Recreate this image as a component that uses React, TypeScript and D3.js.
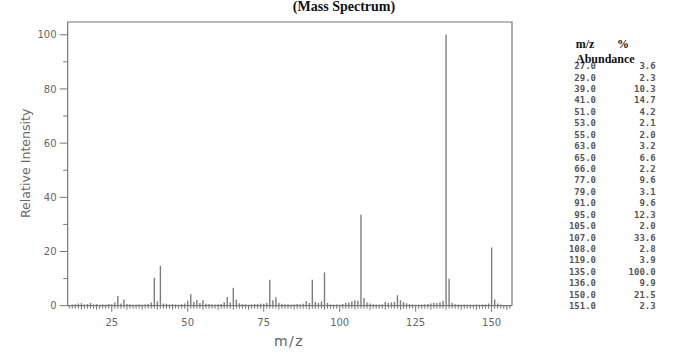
import React from "react";
import * as d3 from "d3";

const peakMz = [27, 29, 39, 41, 51, 53, 55, 63, 65, 66, 77, 79, 91, 95, 105, 107, 108, 119, 135, 136, 150, 151];
const peakAbund = [3.6, 2.3, 10.3, 14.7, 4.2, 2.1, 2.0, 3.2, 6.6, 2.2, 9.6, 3.1, 9.6, 12.3, 2.0, 33.6, 2.8, 3.9, 100.0, 9.9, 21.5, 2.3];

const minorMz = [12, 13, 14, 15, 16, 17, 18, 19, 20, 21, 22, 23, 24, 25, 26, 28, 30, 31, 32, 33, 34, 35, 36, 37, 38, 40, 42, 43, 44, 45, 46, 47, 48, 49, 50, 52, 54, 56, 57, 58, 59, 60, 61, 62, 64, 67, 68, 69, 70, 71, 72, 73, 74, 75, 76, 78, 80, 81, 82, 83, 84, 85, 86, 87, 88, 89, 90, 92, 93, 94, 96, 97, 98, 99, 100, 101, 102, 103, 104, 106, 109, 110, 111, 112, 113, 114, 115, 116, 117, 118, 120, 121, 122, 123, 124, 125, 126, 127, 128, 129, 130, 131, 132, 133, 134, 137, 138, 139, 140, 141, 142, 143, 144, 145, 146, 147, 148, 149, 152, 153];
const minorAbund = [0.4, 0.5, 0.8, 0.9, 0.5, 0.6, 1.0, 0.5, 0.6, 0.4, 0.5, 0.4, 0.6, 0.5, 1.2, 0.8, 0.6, 0.5, 0.4, 0.4, 0.5, 0.4, 0.5, 0.6, 1.2, 1.6, 0.8, 0.7, 0.5, 0.6, 0.5, 0.4, 0.6, 0.8, 1.8, 1.4, 1.0, 0.7, 0.6, 0.5, 0.4, 0.5, 0.6, 1.3, 1.2, 0.9, 0.6, 0.5, 0.4, 0.5, 0.6, 0.6, 0.8, 0.7, 1.0, 2.0, 1.0, 0.7, 0.5, 0.5, 0.4, 0.5, 0.6, 0.5, 0.7, 1.6, 1.0, 1.4, 1.0, 1.6, 1.0, 0.5, 0.4, 0.5, 0.4, 0.6, 1.0, 1.2, 1.6, 1.8, 1.2, 0.8, 0.5, 0.4, 0.4, 0.5, 1.5, 1.0, 1.2, 1.4, 2.0, 1.3, 0.9, 0.6, 0.5, 0.4, 0.4, 0.4, 0.5, 0.6, 0.8, 1.0, 1.0, 1.3, 1.8, 1.0, 0.5, 0.4, 0.4, 0.4, 0.4, 0.4, 0.4, 0.5, 0.4, 0.5, 0.5, 0.8, 0.8, 0.4];

const xTickLabels = [25, 50, 75, 100, 125, 150];
const yTickLabels = [0, 20, 40, 60, 80, 100];
const yMinorTicks = [10, 30, 50, 70, 90];

const tableMz = ["27.0", "29.0", "39.0", "41.0", "51.0", "53.0", "55.0", "63.0", "65.0", "66.0", "77.0", "79.0", "91.0", "95.0", "105.0", "107.0", "108.0", "119.0", "135.0", "136.0", "150.0", "151.0"];
const tableAbund = ["3.6", "2.3", "10.3", "14.7", "4.2", "2.1", "2.0", "3.2", "6.6", "2.2", "9.6", "3.1", "9.6", "12.3", "2.0", "33.6", "2.8", "3.9", "100.0", "9.9", "21.5", "2.3"];

export default function App() {
  const left = 67.7, right = 512, top = 22, bottom = 305.7;
  const x = d3.scaleLinear().domain([10.5, 156.7]).range([left, right]);
  const y = d3.scaleLinear().domain([0, 104.7]).range([bottom, top]);
  const axisColor = "#777";
  const textColor = "#666";
  const barColor = "#7d7d7d";
  const unitTicks = d3.range(11, 157);

  const bars = [
    ...minorMz.map((m, i) => ({ m, v: minorAbund[i] })),
    ...peakMz.map((m, i) => ({ m, v: peakAbund[i] })),
  ];

  return (
    <svg width={700} height={357} style={{ position: "absolute", left: 0, top: 0, background: "#fff" }}>
      <rect x={0} y={0} width={700} height={357} fill="#fff" />
      <text x={344} y={10.5} textAnchor="middle" fontFamily="Liberation Serif" fontWeight="bold" fontSize={14} fill="#111">(Mass Spectrum)</text>

      {/* frame */}
      <path d={`M${left},${bottom}V${top}H${right}V${bottom}`} fill="none" stroke={axisColor} strokeWidth={1.2} />
      <line x1={left} x2={right} y1={bottom} y2={bottom} stroke={axisColor} strokeWidth={1.2} />

      {/* bars */}
      {bars.map((b, i) => (
        <line key={i} x1={x(b.m)} x2={x(b.m)} y1={y(0)} y2={y(b.v)} stroke={barColor} strokeWidth={1.4} />
      ))}

      {/* x ticks */}
      {unitTicks.map((t) => {
        const len = t % 25 === 0 ? 6 : t % 5 === 0 ? 4 : 3;
        return <line key={t} x1={x(t)} x2={x(t)} y1={bottom} y2={bottom + len} stroke={axisColor} strokeWidth={1} />;
      })}
      {xTickLabels.map((t) => (
        <text key={t} x={x(t)} y={326} textAnchor="middle" fontFamily="DejaVu Sans" fontSize={10} fill={textColor}>{t}</text>
      ))}
      <text x={289} y={346} textAnchor="middle" fontFamily="DejaVu Sans" fontSize={14} letterSpacing={1.5} fill={textColor}>m/z</text>

      {/* y ticks */}
      {yTickLabels.map((t) => (
        <g key={t}>
          <line x1={left - 8} x2={left} y1={y(t)} y2={y(t)} stroke={axisColor} strokeWidth={1} />
          <text x={56.5} y={y(t) + 3.6} textAnchor="end" fontFamily="DejaVu Sans" fontSize={10} fill={textColor}>{t}</text>
        </g>
      ))}
      {yMinorTicks.map((t) => (
        <line key={t} x1={left - 4.5} x2={left} y1={y(t)} y2={y(t)} stroke={axisColor} strokeWidth={1} />
      ))}
      <text transform="translate(30.4,163.3) rotate(-90)" textAnchor="middle" fontFamily="DejaVu Sans" fontSize={12.6} fill={textColor}>Relative Intensity</text>

      {/* table */}
      {tableMz.map((m, i) => (
        <g key={m}>
          <text x={596} y={69.2 + i * 11.42} textAnchor="end" fontFamily="DejaVu Sans Mono" fontWeight="bold" fontSize={9} fill="#555">{m}</text>
          <text x={655.7} y={69.2 + i * 11.42} textAnchor="end" fontFamily="DejaVu Sans Mono" fontWeight="bold" fontSize={9} fill="#555">{tableAbund[i]}</text>
        </g>
      ))}
      <text x={575.7} y={48} fontFamily="Liberation Serif" fontWeight="bold" fontSize={12} fill="#111">m/z</text>
      <text x={617} y={48} fontFamily="Liberation Serif" fontWeight="bold" fontSize={12} fill="#111">%</text>
      <text x={576} y={63} fontFamily="Liberation Serif" fontWeight="bold" fontSize={12} fill="#111">Abundance</text>
    </svg>
  );
}
